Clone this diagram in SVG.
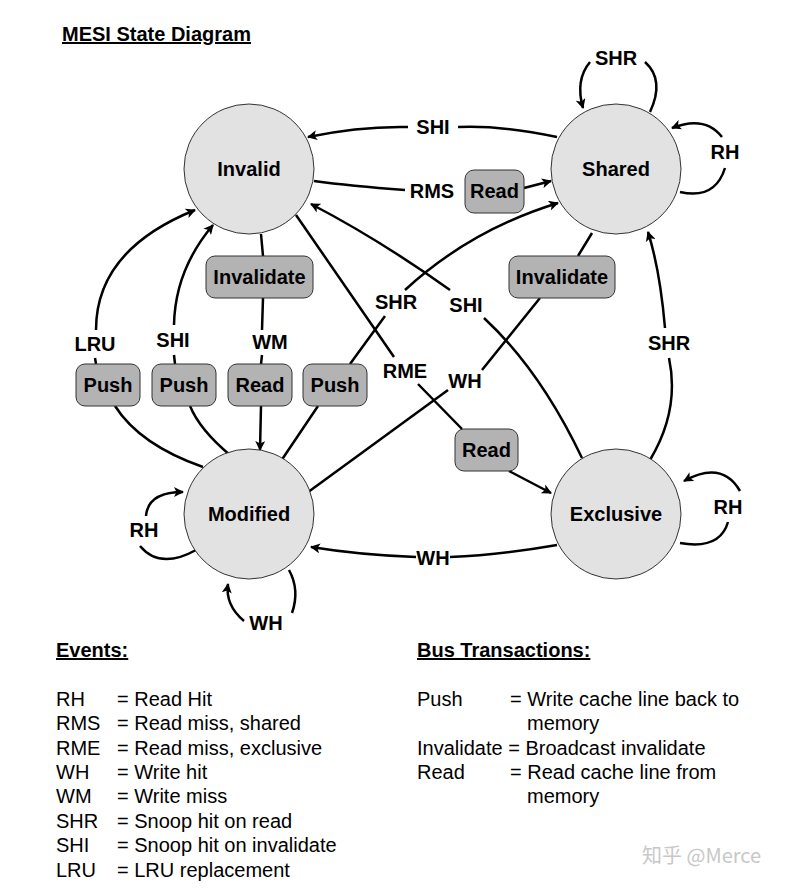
<svg xmlns="http://www.w3.org/2000/svg" width="809" height="889" viewBox="0 0 809 889">
<defs>
<marker id="ah" markerWidth="10" markerHeight="10" refX="9" refY="5" orient="auto" markerUnits="userSpaceOnUse" viewBox="0 0 10 10"><path d="M0,0 L10,5 L0,10 L2.5,5 z" fill="#000"/></marker>
<style>
.st{fill:#e2e2e2;stroke:#333;stroke-width:1}
.bx{fill:#b3b3b3;stroke:#333;stroke-width:1}
.t{font-family:"Liberation Sans",Arial,sans-serif;font-weight:bold;font-size:20px;fill:#000;text-anchor:middle}
.e{fill:none;stroke:#000;stroke-width:2.5}
.a{marker-end:url(#ah)}
.lg{font-family:"Liberation Sans",Arial,sans-serif;font-size:20px;fill:#000}
.h{font-family:"Liberation Sans",Arial,sans-serif;font-size:20px;font-weight:bold;text-decoration:underline;fill:#000}
</style>
</defs>
<rect width="809" height="889" fill="#fff"/>
<text class="h" x="62" y="41" font-size="19">MESI State Diagram</text>
<g id="connectors">
<path class="e a" d="M557,137 Q500,125 458,127 M408,127 Q360,126 308,137"/>
<path class="e" d="M314,181 Q350,186 405,190"/>
<path class="e a" d="M524,188 L551,181"/>
<path class="e a" d="M650,112 Q665,80 645,62 M590,62 Q575,80 583,108"/>
<path class="e a" d="M680,192 Q715,200 725,168 M722,137 Q705,115 672,128"/>
<path class="e a" d="M650,460 Q680,410 669,358 M665,328 Q660,270 648,232"/>
<path class="e a" d="M582,458 Q540,370 484,318 M450,290 Q380,240 311,204"/>
<path class="e" d="M592,233 L578,256 M540,298 L482,370"/>
<path class="e a" d="M448,390 Q380,440 300,498"/>
<path class="e" d="M281,461 L318,406 M350,364 L385,316"/>
<path class="e a" d="M405,290 Q470,230 558,203"/>
<path class="e" d="M296,215 L394,357 M418,384 L462,429"/>
<path class="e a" d="M509,471 L551,493"/>
<path class="e" d="M261,234 L263,256 M263,298 L262,330 M262,355 L261,364"/>
<path class="e a" d="M261,406 L260,450"/>
<path class="e" d="M230,455 Q200,430 190,406"/>
<path class="e a" d="M175,364 L174,355 M174,325 Q175,270 213,225"/>
<path class="e" d="M203,467 Q140,445 115,406"/>
<path class="e a" d="M96,364 L95,358 M96,330 Q96,250 195,210"/>
<path class="e a" d="M557,545 Q500,555 450,557 M416,557 Q360,555 311,547"/>
<path class="e a" d="M146,516 Q148,492 183,492"/>
<path class="e" d="M140,546 Q160,570 196,550"/>
<path class="e a" d="M244,621 Q225,605 228,584"/>
<path class="e" d="M292,613 Q300,590 289,570"/>
<path class="e a" d="M740,491 Q722,460 684,481"/>
<path class="e" d="M728,522 Q720,550 680,543"/>
</g>
<g id="labels" class="t">
<text x="433" y="134">SHI</text>
<text x="432" y="198">RMS</text>
<text x="616" y="65">SHR</text>
<text x="725" y="159">RH</text>
<text x="669" y="350">SHR</text>
<text x="466" y="312">SHI</text>
<text x="465" y="388">WH</text>
<text x="396" y="309">SHR</text>
<text x="405" y="378">RME</text>
<text x="270" y="349">WM</text>
<text x="173" y="347">SHI</text>
<text x="95" y="351">LRU</text>
<text x="433" y="565">WH</text>
<text x="144" y="537">RH</text>
<text x="266" y="630">WH</text>
<text x="728" y="514">RH</text>
</g>
<g id="invalid"><circle class="st" cx="249" cy="169" r="65"/><text class="t" x="249" y="176">Invalid</text></g>
<g id="shared"><circle class="st" cx="616" cy="169" r="65"/><text class="t" x="616" y="176">Shared</text></g>
<g id="modified"><circle class="st" cx="249" cy="514" r="65"/><text class="t" x="249" y="521">Modified</text></g>
<g id="exclusive"><circle class="st" cx="616" cy="514" r="65"/><text class="t" x="616" y="521">Exclusive</text></g>
<g id="read-rms"><rect class="bx" x="465" y="170" width="59" height="43" rx="9"/><text class="t" x="494.5" y="198">Read</text></g>
<g id="inv-left"><rect class="bx" x="206" y="256" width="107" height="42" rx="9"/><text class="t" x="259.5" y="284">Invalidate</text></g>
<g id="inv-right"><rect class="bx" x="509" y="256" width="106" height="42" rx="9"/><text class="t" x="562" y="284">Invalidate</text></g>
<g id="push1"><rect class="bx" x="76" y="364" width="64" height="42" rx="9"/><text class="t" x="108" y="392">Push</text></g>
<g id="push2"><rect class="bx" x="152" y="364" width="64" height="42" rx="9"/><text class="t" x="184" y="392">Push</text></g>
<g id="read-wm"><rect class="bx" x="228" y="364" width="64" height="42" rx="9"/><text class="t" x="260" y="392">Read</text></g>
<g id="push3"><rect class="bx" x="303" y="364" width="64" height="42" rx="9"/><text class="t" x="335" y="392">Push</text></g>
<g id="read-rme"><rect class="bx" x="455" y="429" width="63" height="42" rx="9"/><text class="t" x="486.5" y="457">Read</text></g>
<g id="legend">
<text class="h" x="56" y="657">Events:</text>
<text class="lg" x="56" y="706">RH</text><text class="lg" x="117" y="706">= Read Hit</text>
<text class="lg" x="56" y="730">RMS</text><text class="lg" x="117" y="730">= Read miss, shared</text>
<text class="lg" x="56" y="755">RME</text><text class="lg" x="117" y="755">= Read miss, exclusive</text>
<text class="lg" x="56" y="779">WH</text><text class="lg" x="117" y="779">= Write hit</text>
<text class="lg" x="56" y="803">WM</text><text class="lg" x="117" y="803">= Write miss</text>
<text class="lg" x="56" y="828">SHR</text><text class="lg" x="117" y="828">= Snoop hit on read</text>
<text class="lg" x="56" y="852">SHI</text><text class="lg" x="117" y="852">= Snoop hit on invalidate</text>
<text class="lg" x="56" y="877">LRU</text><text class="lg" x="117" y="877">= LRU replacement</text>
<text class="h" x="417" y="657">Bus Transactions:</text>
<text class="lg" x="417" y="706">Push</text><text class="lg" x="510" y="706">= Write cache line back to</text>
<text class="lg" x="527" y="730">memory</text>
<text class="lg" x="417" y="755">Invalidate = Broadcast invalidate</text>
<text class="lg" x="417" y="779">Read</text><text class="lg" x="510" y="779">= Read cache line from</text>
<text class="lg" x="527" y="803">memory</text>
<text x="642" y="863" font-family="'Noto Sans CJK SC',sans-serif" font-size="20" fill="#c8c8c8">知乎 @Merce</text>
</g>
</svg>
